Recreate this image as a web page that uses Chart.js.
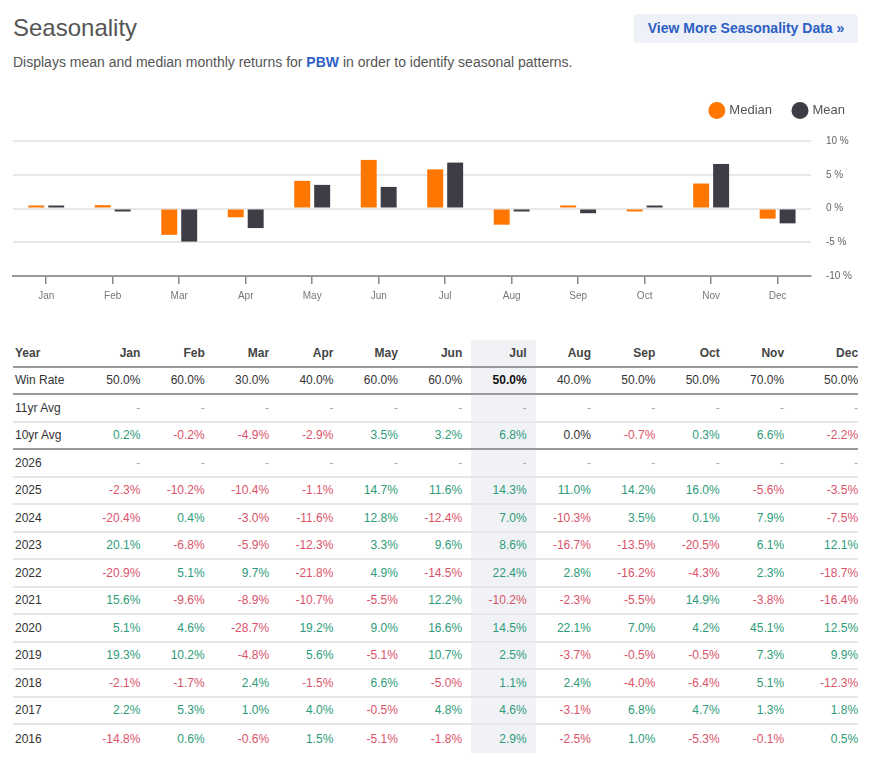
<!DOCTYPE html>
<html>
<head>
<meta charset="utf-8">
<title>Seasonality</title>
<script src="https://cdn.jsdelivr.net/npm/chart.js@4.4.1/dist/chart.umd.min.js"></script>
<style>
	html, body { margin: 0; padding: 0; background: #fff; }
	body { width: 876px; height: 763px; position: relative; overflow: hidden; font-family: "Liberation Sans", Arial, sans-serif; color: #333; }
	.title { position: absolute; left: 13px; top: 14px; font-size: 24px; line-height: 28px; color: #555; }
	.more { position: absolute; left: 634px; top: 14px; width: 224px; height: 29px; line-height: 29px; border-radius: 4px; background: #eef1f8; color: #2d5fc4; font-weight: bold; font-size: 14px; text-align: center; }
	.sub { position: absolute; left: 13px; top: 54px; font-size: 14px; line-height: 16px; color: #555; }
	.sub b { color: #2d5fc4; }
	.chart-container { position: absolute; left: 0; top: 82px; width: 876px; height: 234px; }
	.tbl { position: absolute; left: 13px; top: 340px; width: 845px; font-size: 12px; }
	.row { display: flex; height: 27.5px; box-sizing: border-box; border-bottom: 2px solid #e6e6e6; }
	.row.thick { border-bottom: 2px solid #9a9a9a; }
	.row.last { border-bottom: none; }
	.cell { width: 64.4px; box-sizing: border-box; padding-right: 9px; text-align: right; display: flex; align-items: center; justify-content: flex-end; }
	.cell.lbl { width: 72px; justify-content: flex-start; padding: 0 0 0 2px; color: #333; }
	.cell.dec { width: 65px; padding-right: 0; }
	.cell.hl { background: #f0f2f6; }
	.head .cell { font-weight: bold; color: #444; }
	.pos { color: #2e9b7a; }
	.neg { color: #d9546a; }
	.zero { color: #333; }
	.na { color: #aaa; }
</style>
</head>
<body>
<div class="title">Seasonality</div>
<div class="more">View More Seasonality Data »</div>
<div class="sub">Displays mean and median monthly returns for <b>PBW</b> in order to identify seasonal patterns.</div>
<div class="chart-container"><canvas id="chart"></canvas></div>
<div class="tbl" id="tbl"></div>
<script>
	'use strict';

	var months = ["Jan", "Feb", "Mar", "Apr", "May", "Jun", "Jul", "Aug", "Sep", "Oct", "Nov", "Dec"];
	var medianReturns = [0.05, 0.5, -3.9, -1.3, 4.1, 7.2, 5.8, -2.4, 0.25, -0.2, 3.7, -1.5];
	var meanReturns = [0.2, -0.2, -4.9, -2.9, 3.5, 3.2, 6.8, -0.03, -0.7, 0.3, 6.6, -2.2];
	var yTicks = [-10, -5, 0, 5, 10];

	var winRate = [50, 60, 30, 40, 60, 60, 50, 40, 50, 50, 70, 50];
	var avg11yr = [null, null, null, null, null, null, null, null, null, null, null, null];
	var avg10yr = [0.2, -0.2, -4.9, -2.9, 3.5, 3.2, 6.8, 0.0, -0.7, 0.3, 6.6, -2.2];

	var years = [2026, 2025, 2024, 2023, 2022, 2021, 2020, 2019, 2018, 2017, 2016];
	var r2026 = [null, null, null, null, null, null, null, null, null, null, null, null];
	var r2025 = [-2.3, -10.2, -10.4, -1.1, 14.7, 11.6, 14.3, 11.0, 14.2, 16.0, -5.6, -3.5];
	var r2024 = [-20.4, 0.4, -3.0, -11.6, 12.8, -12.4, 7.0, -10.3, 3.5, 0.1, 7.9, -7.5];
	var r2023 = [20.1, -6.8, -5.9, -12.3, 3.3, 9.6, 8.6, -16.7, -13.5, -20.5, 6.1, 12.1];
	var r2022 = [-20.9, 5.1, 9.7, -21.8, 4.9, -14.5, 22.4, 2.8, -16.2, -4.3, 2.3, -18.7];
	var r2021 = [15.6, -9.6, -8.9, -10.7, -5.5, 12.2, -10.2, -2.3, -5.5, 14.9, -3.8, -16.4];
	var r2020 = [5.1, 4.6, -28.7, 19.2, 9.0, 16.6, 14.5, 22.1, 7.0, 4.2, 45.1, 12.5];
	var r2019 = [19.3, 10.2, -4.8, 5.6, -5.1, 10.7, 2.5, -3.7, -0.5, -0.5, 7.3, 9.9];
	var r2018 = [-2.1, -1.7, 2.4, -1.5, 6.6, -5.0, 1.1, 2.4, -4.0, -6.4, 5.1, -12.3];
	var r2017 = [2.2, 5.3, 1.0, 4.0, -0.5, 4.8, 4.6, -3.1, 6.8, 4.7, 1.3, 1.8];
	var r2016 = [-14.8, 0.6, -0.6, 1.5, -5.1, -1.8, 2.9, -2.5, 1.0, -5.3, -0.1, 0.5];
	var yearRows = [r2026, r2025, r2024, r2023, r2022, r2021, r2020, r2019, r2018, r2017, r2016];

	var HL = 6; // highlighted month (Jul)

	function cell(text, cls, i) {
		var c = "cell";
		if (i === 11) c += " dec";
		if (i === HL) c += " hl";
		return '<div class="' + c + (cls ? ' ' + cls : '') + '">' + text + '</div>';
	}

	function pctCell(v, i) {
		if (v === null) return cell("-", "na", i);
		var cls = v > 0 ? "pos" : (v < 0 ? "neg" : "zero");
		return cell(v.toFixed(1) + "%", cls, i);
	}

	function row(label, vals, rowCls, fmt) {
		var h = '<div class="row ' + (rowCls || '') + '"><div class="cell lbl">' + label + '</div>';
		vals.forEach(function(v, i) { h += fmt(v, i); });
		return h + '</div>';
	}

	var html = row("Year", months, "head thick", function(m, i) { return cell(m, "", i); });
	html += row("Win Rate", winRate, "thick", function(v, i) {
		var t = v.toFixed(1) + "%";
		return cell(i === HL ? '<b style="color:#111">' + t + '</b>' : t, "", i);
	});
	html += row("11yr Avg", avg11yr, "", pctCell);
	html += row("10yr Avg", avg10yr, "thick", pctCell);
	years.forEach(function(y, k) {
		html += row(String(y), yearRows[k], k === years.length - 1 ? "last" : "", pctCell);
	});
	document.getElementById("tbl").innerHTML = html;

	Chart.defaults.font.family = '"Liberation Sans", Arial, sans-serif';

	// extra room between legend and plot
	var legendGap = {
		id: "legendGap",
		beforeInit: function(chart) {
			var fit = chart.legend.fit;
			chart.legend.fit = function() {
				fit.bind(chart.legend)();
				this.height += 14;
			};
		}
	};

	new Chart(document.getElementById("chart").getContext("2d"), {
		type: "bar",
		data: {
			labels: months,
			datasets: [{
				label: "Median",
				data: medianReturns,
				backgroundColor: "#ff7700",
				categoryPercentage: 0.6,
				barPercentage: 0.8,
				minBarLength: 3
			}, {
				label: "Mean",
				data: meanReturns,
				backgroundColor: "#3d3d45",
				categoryPercentage: 0.6,
				barPercentage: 0.8,
				minBarLength: 3
			}]
		},
		plugins: [legendGap],
		options: {
			responsive: true,
			maintainAspectRatio: false,
			animation: false,
			layout: { padding: { left: 13, right: 9, top: 0, bottom: 8 } },
			plugins: {
				tooltip: { enabled: false },
				legend: {
					position: "top",
					align: "end",
					labels: {
						usePointStyle: true,
						pointStyle: "circle",
						boxWidth: 12,
						boxHeight: 12,
						padding: 22,
						color: "#555",
						font: { size: 13 }
					}
				}
			},
			scales: {
				x: {
					grid: { display: true, drawOnChartArea: false, drawTicks: true, tickLength: 8, offset: false, color: "#888", lineWidth: 1.5 },
					border: { display: true, color: "#999", width: 2 },
					ticks: { color: "#777", font: { size: 10 }, padding: 6 }
				},
				y: {
					position: "right",
					min: yTicks[0],
					max: yTicks[yTicks.length - 1],
					afterBuildTicks: function(axis) {
						axis.ticks = yTicks.map(function(v) { return { value: v }; });
					},
					ticks: {
						color: "#666",
						font: { size: 10 },
						padding: 15,
						callback: function(v) { return v + " %"; }
					},
					grid: { color: "#e8e8e8", lineWidth: 2, drawTicks: false },
					border: { display: false }
				}
			}
		}
	});
</script>
</body>
</html>
